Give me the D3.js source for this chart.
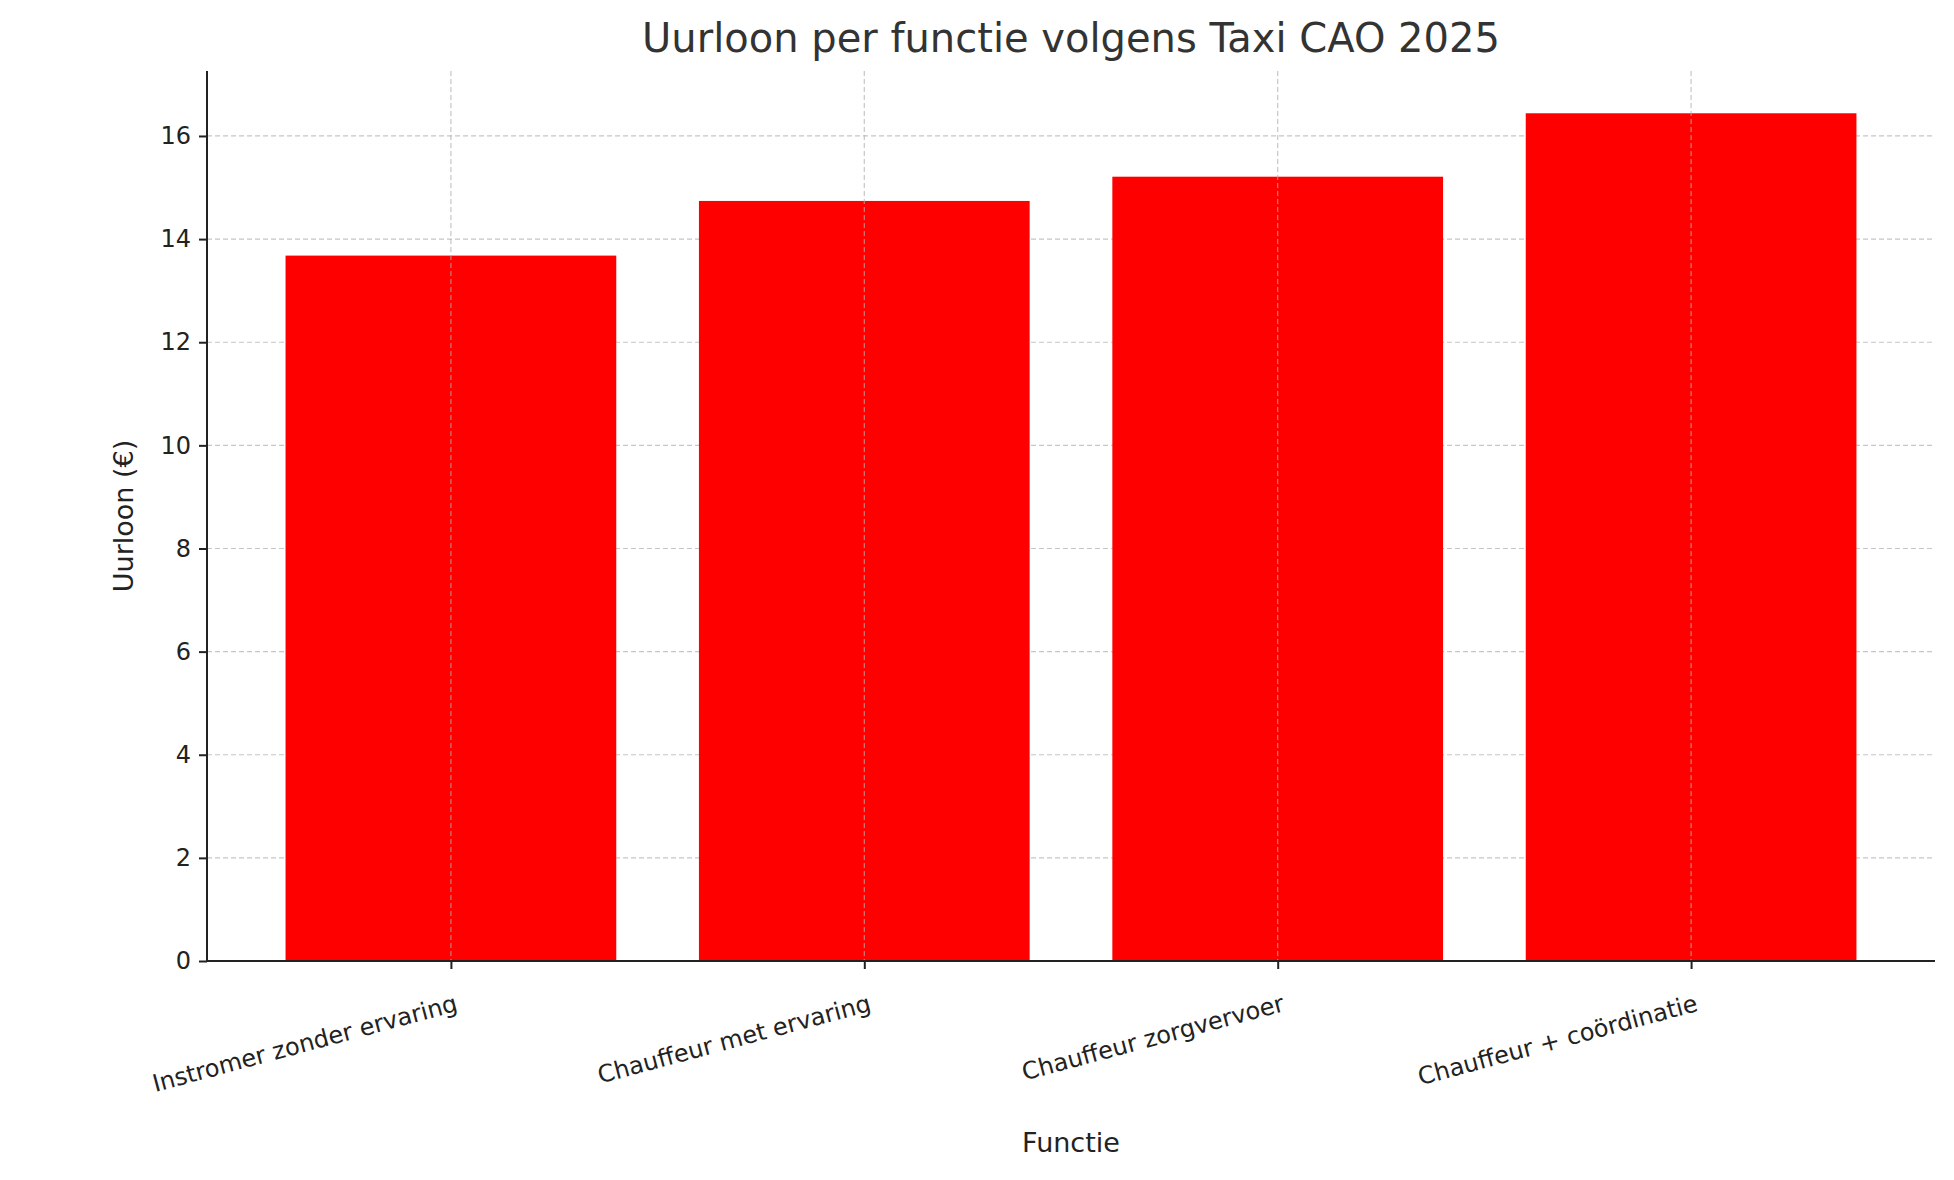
<!DOCTYPE html><html><head><meta charset="utf-8"><script src="https://cdn.jsdelivr.net/npm/d3@7"></script>
<style>body{margin:0;background:#fff}text{font-family:"DejaVu Sans",sans-serif}</style></head><body>
<svg id="c" width="1954" height="1180"></svg>
<script>
const categories=["Instromer zonder ervaring","Chauffeur met ervaring","Chauffeur zorgvervoer","Chauffeur + coördinatie"];
const values=[13.68,14.74,15.21,16.44];
const yTicks=[0,2,4,6,8,10,12,14,16];
const svg=d3.select("#c");
const L=207,R=1935,T=71,B=961;
const x=d3.scaleLinear().domain([-0.59,3.59]).range([L,R]);
const y=d3.scaleLinear().domain([0,17.26]).range([B,T]);
const g=svg.append("g");
// grid
g.selectAll(".gy").data(yTicks).join("line").attr("x1",L).attr("x2",R).attr("y1",d=>y(d)).attr("y2",d=>y(d))
 .attr("stroke","#b0b0b0").attr("stroke-width",1.2).attr("stroke-dasharray","5,3").attr("opacity",0.7);
g.selectAll(".bar").data(values).join("rect").attr("x",(d,i)=>x(i-0.4)).attr("width",x(0.8)-x(0)).attr("y",d=>y(d)).attr("height",d=>B-y(d)).attr("fill","#ff0000");
g.selectAll(".gx").data(categories).join("line").attr("x1",(d,i)=>x(i)).attr("x2",(d,i)=>x(i)).attr("y1",T).attr("y2",B)
 .attr("stroke","#b0b0b0").attr("stroke-width",1.2).attr("stroke-dasharray","5,3").attr("opacity",0.7);
const ya=svg.append("g").attr("transform",`translate(${L},0)`).call(d3.axisLeft(y).tickValues(yTicks).tickSize(8).tickPadding(8).tickFormat(d3.format("d")));
ya.select(".domain").attr("d",`M0,${T}V${B}`).attr("stroke","#222").attr("stroke-width",2);
ya.selectAll("text").attr("font-size",24).attr("fill","#222").attr("font-family","DejaVu Sans");
ya.selectAll(".tick line").attr("stroke","#222").attr("stroke-width",2);
const xa=svg.append("g").attr("transform",`translate(0,${B})`).call(d3.axisBottom(x).tickValues([0,1,2,3]).tickSize(8).tickFormat(i=>categories[i]));
xa.select(".domain").attr("d",`M${L},0H${R}`).attr("stroke","#222").attr("stroke-width",2);
xa.selectAll(".tick line").attr("stroke","#222").attr("stroke-width",2);
xa.selectAll("text").attr("font-size",24).attr("fill","#222").attr("font-family","DejaVu Sans")
 .attr("text-anchor","end").attr("dy",0).attr("transform","translate(0,22) rotate(-15)").attr("dominant-baseline","hanging");
svg.append("text").attr("x",(L+R)/2).attr("y",52).attr("text-anchor","middle").attr("font-size",40).attr("fill","#333").text("Uurloon per functie volgens Taxi CAO 2025");
svg.append("text").attr("x",(L+R)/2).attr("y",1152).attr("text-anchor","middle").attr("font-size",27).attr("fill","#222").text("Functie");
svg.append("text").attr("transform",`translate(133,${(T+B)/2}) rotate(-90)`).attr("text-anchor","middle").attr("font-size",27).attr("fill","#222").text("Uurloon (€)");
</script></body></html>
